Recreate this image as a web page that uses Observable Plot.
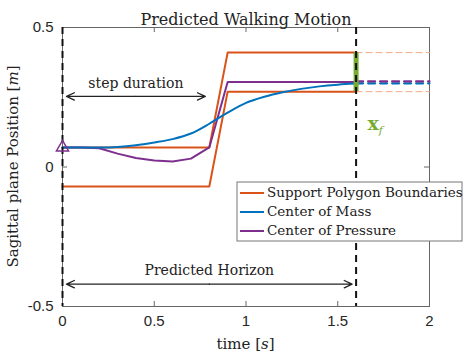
<!DOCTYPE html>
<html><head><meta charset="utf-8">
<script src="https://cdn.jsdelivr.net/npm/d3@7"></script>
<script src="https://cdn.jsdelivr.net/npm/@observablehq/plot@0.6"></script>
<style>body{margin:0;background:#fff}svg{overflow:visible}</style>
</head><body><div id="chart"></div>
<script>
// ---- data ----
const time = [0, 0.1, 0.2, 0.3, 0.4, 0.5, 0.6, 0.7, 0.8, 0.9, 1.0, 1.1, 1.2, 1.3, 1.4, 1.5, 1.6];
const comY = [0.07, 0.07, 0.07, 0.072, 0.078, 0.088, 0.10, 0.12, 0.155, 0.195, 0.23, 0.252, 0.268, 0.28, 0.289, 0.295, 0.299];
const copY = [0.07, 0.07, 0.067, 0.048, 0.032, 0.023, 0.02, 0.03, 0.07, 0.305, 0.305, 0.305, 0.305, 0.305, 0.305, 0.305, 0.305];
const supT = [0, 0.8, 0.9, 1.6];
const supUpper = [0.07, 0.07, 0.41, 0.41];
const supLower = [-0.07, -0.07, 0.27, 0.27];
const extT = [1.6, 2];
const extUpper = [0.41, 0.41];
const extLower = [0.27, 0.27];
const extCoM = [0.300, 0.300];
const extCoP = [0.307, 0.307];
const horizon = 1.6;
const stepDuration = 0.8;
const xf = {x: 1.6, y1: 0.27, y2: 0.41};
const xTicks = [0, 0.5, 1, 1.5, 2];
const yTicks = [-0.5, 0, 0.5];
const seriesNames = ["Support Polygon Boundaries", "Center of Mass", "Center of Pressure"];
const colors = {sup: "#D95319", com: "#0072BD", cop: "#7E2F8E", xf: "#77AC30", ext: "#F4A98A"};

const W = 474, H = 355, mT = 27, mB = 49, mL = 62, mR = 45;
const innerH = H - mT - mB;
const zip = (xs, ys) => xs.map((x, i) => ({x, y: ys[i]}));
const serif = "'DejaVu Serif', 'Liberation Serif', serif";

// double-headed arrows as pairs of arrows from the midpoint outward
const stepArrowY = 0.253, horizonArrowY = -0.42;
const arrows = [
  {x1: stepDuration / 2, x2: 0, y: stepArrowY},
  {x1: stepDuration / 2, x2: stepDuration, y: stepArrowY},
  {x1: horizon / 2, x2: 0, y: horizonArrowY},
  {x1: horizon / 2, x2: horizon, y: horizonArrowY}
];

const plot = Plot.plot({
  width: W, height: H,
  marginTop: mT, marginBottom: mB, marginLeft: mL, marginRight: mR,
  style: {fontFamily: "'Liberation Sans', Arial, sans-serif", fontSize: "14px", color: "#262626", overflow: "visible"},
  x: {domain: [0, 2]},
  y: {domain: [-0.5, 0.5]},
  marks: [
    Plot.frame({stroke: "#666", strokeWidth: 1}),
    Plot.axisX({ticks: xTicks, tickSize: 0, tickPadding: 9, tickFormat: d => String(d), label: null, fontSize: 15, fill: "#262626"}),
    Plot.axisY({ticks: yTicks, tickSize: 0, tickPadding: 9, tickFormat: d => String(d), label: null, fontSize: 15, fill: "#262626"}),
    Plot.tickX(xTicks, {x: d => d, insetTop: innerH - 5, stroke: "#666"}),
    Plot.tickX(xTicks, {x: d => d, insetBottom: innerH - 5, stroke: "#666"}),
    Plot.tickY(yTicks, {y: d => d, insetRight: W - mL - mR - 5, stroke: "#666"}),
    Plot.tickY(yTicks, {y: d => d, insetLeft: W - mL - mR - 5, stroke: "#666"}),
    // extensions
    Plot.line(zip(extT, extUpper), {x: "x", y: "y", stroke: colors.ext, strokeWidth: 1, strokeDasharray: "6,4"}),
    Plot.line(zip(extT, extLower), {x: "x", y: "y", stroke: colors.ext, strokeWidth: 1, strokeDasharray: "6,4"}),
    Plot.line(zip(extT, extCoM), {x: "x", y: "y", stroke: colors.com, strokeWidth: 2.2, strokeDasharray: "7,5"}),
    Plot.line(zip(extT, extCoP), {x: "x", y: "y", stroke: colors.cop, strokeWidth: 2.2, strokeDasharray: "7,5"}),
    // series
    Plot.line(zip(supT, supUpper), {x: "x", y: "y", stroke: colors.sup, strokeWidth: 2}),
    Plot.line(zip(supT, supLower), {x: "x", y: "y", stroke: colors.sup, strokeWidth: 2}),
    Plot.line(zip(time, copY), {x: "x", y: "y", stroke: colors.cop, strokeWidth: 2}),
    Plot.line(zip(time, comY), {x: "x", y: "y", stroke: colors.com, strokeWidth: 2, curve: "monotone-x"}),
    // xf bar
    Plot.ruleX([xf], {x: "x", y1: "y1", y2: "y2", stroke: colors.xf, strokeWidth: 5}),
    // dashed vertical lines
    Plot.ruleX([0, horizon], {stroke: "#111", strokeWidth: 2, strokeDasharray: "7,5"}),
    // initial marker
    Plot.dot([{x: time[0], y: copY[0]}], {x: "x", y: "y", symbol: "triangle", r: 4.5, stroke: colors.cop, fill: "none", strokeWidth: 1.5}),
    // arrows
    Plot.arrow(arrows, {x1: "x1", x2: "x2", y1: "y", y2: "y", stroke: "#222", strokeWidth: 1.3, headLength: 10, headAngle: 50, insetEnd: 4}),
    Plot.text(["step duration"], {x: stepDuration / 2, y: 0.30, text: d => d, fontFamily: serif, fontSize: 14, fill: "#222"}),
    Plot.text(["Predicted Horizon"], {x: horizon / 2, y: -0.37, text: d => d, fontFamily: serif, fontSize: 14, fill: "#222"}),
    // title
    Plot.text(["Predicted Walking Motion"], {frameAnchor: "top", dy: -14, text: d => d, fontFamily: serif, fontSize: 16, fill: "#222"})
  ]
});

document.getElementById("chart").append(plot);
const svg = d3.select(plot);
const sx = plot.scale("x"), sy = plot.scale("y");

// axis labels with italic units
const yl = svg.append("text").attr("transform", `translate(14,${(mT + H - mB) / 2}) rotate(-90)`)
  .attr("text-anchor", "middle").attr("dominant-baseline", "middle")
  .attr("font-family", serif).attr("font-size", 15).attr("fill", "#222");
yl.append("tspan").text("Sagittal plane Position [");
yl.append("tspan").attr("font-style", "italic").text("m");
yl.append("tspan").text("]");
const xl = svg.append("text").attr("x", mL + (W - mL - mR) / 2).attr("y", H - 6)
  .attr("text-anchor", "middle").attr("font-family", serif).attr("font-size", 15).attr("fill", "#222");
xl.append("tspan").text("time [");
xl.append("tspan").attr("font-style", "italic").text("s");
xl.append("tspan").text("]");

// x_f label
const xfl = svg.append("text").attr("x", sx.apply(1.665)).attr("y", sy.apply(0.13))
  .attr("text-anchor", "start").attr("font-family", serif).attr("fill", colors.xf);
xfl.append("tspan").attr("font-weight", "bold").attr("font-size", 19).text("x");
xfl.append("tspan").attr("font-style", "italic").attr("font-size", 11).attr("dy", 4).text("f");

// legend
const lg = svg.append("g").attr("transform", `translate(237,182)`);
lg.append("rect").attr("width", 225).attr("height", 59).attr("fill", "#fff").attr("stroke", "#777");
[colors.sup, colors.com, colors.cop].forEach((c, i) => {
  const yy = 11 + i * 19;
  lg.append("line").attr("x1", 3).attr("x2", 27).attr("y1", yy).attr("y2", yy).attr("stroke", c).attr("stroke-width", 2);
  lg.append("text").attr("x", 30).attr("y", yy).attr("dominant-baseline", "middle").attr("text-anchor", "start")
    .attr("font-family", serif).attr("font-size", 13.5).attr("fill", "#222").text(seriesNames[i]);
});
</script></body></html>
